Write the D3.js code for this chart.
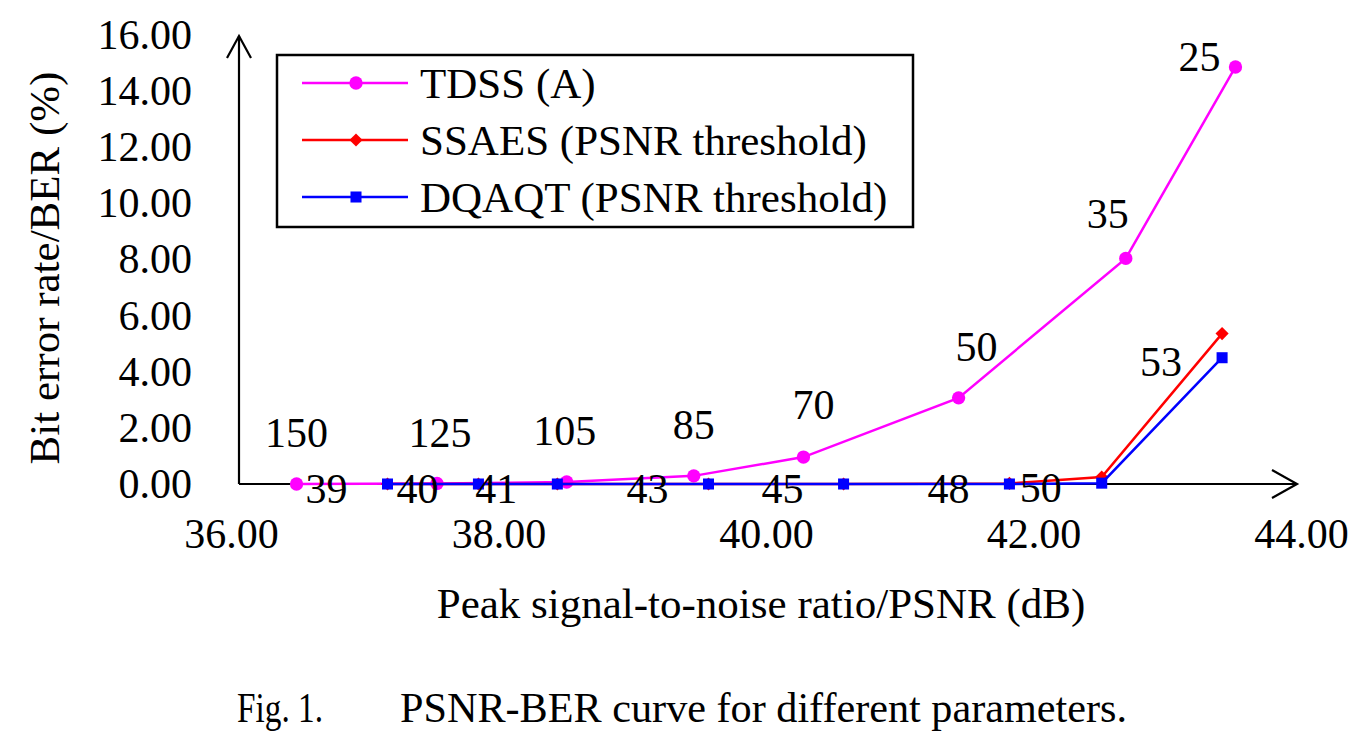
<!DOCTYPE html>
<html>
<head>
<meta charset="utf-8">
<script src="https://cdn.jsdelivr.net/npm/d3@7"></script>
<style>
  body { margin: 0; background: #fff; }
  svg { display: block; font-family: "Liberation Serif", "Times New Roman", serif; }
</style>
</head>
<body>
<svg id="chart"></svg>
<script>
// chart values
const xTicks = [36, 38, 40, 42, 44];
const yTicks = [0, 2, 4, 6, 8, 10, 12, 14, 16];

const tdssX = [36.49, 37.54, 38.51, 39.46, 40.28, 41.44, 42.69, 43.51];
const tdssY = [0.00, 0.02, 0.07, 0.29, 0.96, 3.07, 8.04, 14.86];
const tdssLabels = ["150", "125", "105", "85", "70", "50", "35", "25"];

const threshX = [37.17, 37.85, 38.44, 39.57, 40.58, 41.82, 42.51, 43.41];
const ssaesY = [0.00, 0.00, 0.00, 0.00, 0.00, 0.02, 0.25, 5.36];
const dqaqtY = [0.00, 0.00, 0.00, 0.00, 0.00, 0.00, 0.03, 4.50];
const threshLabels = ["39", "40", "41", "43", "45", "48", "50", "53"];

const seriesNames = ["TDSS (A)", "SSAES (PSNR threshold)", "DQAQT (PSNR threshold)"];

// label nudges (px) for the TDSS labels, the way they sit in the figure
const tdssLabelDx = [0, 3, -2, 0, 10, 18, -18, -36];
const tdssLabelDy = [-52, -51, -52, -52, -53, -52, -45, -11];

const W = 1351, H = 740;
const svg = d3.select("#chart").attr("width", W).attr("height", H);

const x = d3.scaleLinear().domain([36, 44]).range([231, 1301]);
const y = d3.scaleLinear().domain([0, 16]).range([484, 35]);
const axisX = 239; // where the vertical axis line is drawn

const tickFont = 42, titleFont = 43;

// x axis tick labels
const gx = svg.append("g")
  .attr("transform", `translate(0,${y(0)})`)
  .call(d3.axisBottom(x).tickValues(xTicks).tickFormat(d3.format(".2f")).tickSize(0).tickPadding(34));
gx.select(".domain").remove();
gx.selectAll("text").attr("font-size", tickFont).attr("font-family", "Liberation Serif").attr("fill", "#000");

// y axis tick labels
const gy = svg.append("g")
  .attr("transform", `translate(${axisX},0)`)
  .call(d3.axisLeft(y).tickValues(yTicks).tickFormat(d3.format(".2f")).tickSize(0).tickPadding(47));
gy.select(".domain").remove();
gy.selectAll("text").attr("font-size", tickFont).attr("font-family", "Liberation Serif").attr("fill", "#000");

// axis lines with open arrow heads
const axes = svg.append("g").attr("fill", "none").attr("stroke", "#000").attr("stroke-width", 2.2);
axes.append("path").attr("d", `M${axisX},${y(0)}H1297`);
axes.append("path").attr("d", `M1272,${y(0) - 14}L1297,${y(0)}L1272,${y(0) + 14}`);
axes.append("path").attr("d", `M${axisX},${y(0)}V36`);
axes.append("path").attr("d", `M${axisX - 12},58L${axisX},36L${axisX + 12},58`);

// axis titles
svg.append("text")
  .attr("x", 761).attr("y", 618)
  .attr("text-anchor", "middle")
  .attr("font-size", titleFont)
  .text("Peak signal-to-noise ratio/PSNR (dB)");

svg.append("text")
  .attr("transform", "translate(59,268) rotate(-90)")
  .attr("text-anchor", "middle")
  .attr("font-size", titleFont)
  .text("Bit error rate/BER (%)");

// series
const series = [
  { name: seriesNames[0], xs: tdssX, ys: tdssY, color: "#ff00ff", symbol: d3.symbolCircle, size: 140 },
  { name: seriesNames[1], xs: threshX, ys: ssaesY, color: "#ff0000", symbol: d3.symbolDiamond2, size: 110 },
  { name: seriesNames[2], xs: threshX, ys: dqaqtY, color: "#0000ff", symbol: d3.symbolSquare2, size: 155 }
];

const line = d3.line().x(d => x(d[0])).y(d => y(d[1]));

series.forEach(s => {
  const pts = s.xs.map((v, i) => [v, s.ys[i]]);
  svg.append("path")
    .datum(pts)
    .attr("d", line)
    .attr("fill", "none")
    .attr("stroke", s.color)
    .attr("stroke-width", 2.5);
  svg.append("g")
    .selectAll("path")
    .data(pts)
    .join("path")
    .attr("transform", d => `translate(${x(d[0])},${y(d[1])})`)
    .attr("d", d3.symbol(s.symbol, s.size))
    .attr("fill", s.color);
});

// data labels
svg.append("g")
  .selectAll("text")
  .data(tdssLabels)
  .join("text")
  .attr("x", (d, i) => x(tdssX[i]) + tdssLabelDx[i])
  .attr("y", (d, i) => y(tdssY[i]) + tdssLabelDy[i])
  .attr("dy", "0.35em")
  .attr("text-anchor", "middle")
  .attr("font-size", tickFont)
  .text(d => d);

svg.append("g")
  .selectAll("text")
  .data(threshLabels)
  .join("text")
  .attr("x", (d, i) => x(threshX[i]) - 61)
  .attr("y", (d, i) => y(dqaqtY[i]) + 4)
  .attr("dy", "0.35em")
  .attr("text-anchor", "middle")
  .attr("font-size", tickFont)
  .text(d => d);

// legend
const legend = svg.append("g");
legend.append("rect")
  .attr("x", 277).attr("y", 55)
  .attr("width", 636).attr("height", 172)
  .attr("fill", "#fff").attr("stroke", "#000").attr("stroke-width", 2.5);

const rowY = d3.scalePoint().domain(seriesNames).range([83, 197]);
series.forEach(s => {
  const ry = rowY(s.name);
  legend.append("line")
    .attr("x1", 302).attr("x2", 408).attr("y1", ry).attr("y2", ry)
    .attr("stroke", s.color).attr("stroke-width", 2.5);
  legend.append("path")
    .attr("transform", `translate(356,${ry})`)
    .attr("d", d3.symbol(s.symbol, s.size))
    .attr("fill", s.color);
  legend.append("text")
    .attr("x", 420).attr("y", ry)
    .attr("dy", "0.35em")
    .attr("font-size", titleFont)
    .text(s.name);
});

// caption
svg.append("text")
  .attr("x", 237).attr("y", 722)
  .attr("font-size", 42)
  .attr("textLength", 86).attr("lengthAdjust", "spacingAndGlyphs")
  .text("Fig. 1.");
svg.append("text")
  .attr("x", 400).attr("y", 722)
  .attr("font-size", 42)
  .attr("textLength", 727).attr("lengthAdjust", "spacingAndGlyphs")
  .text("PSNR-BER curve for different parameters.");
</script>
</body>
</html>
